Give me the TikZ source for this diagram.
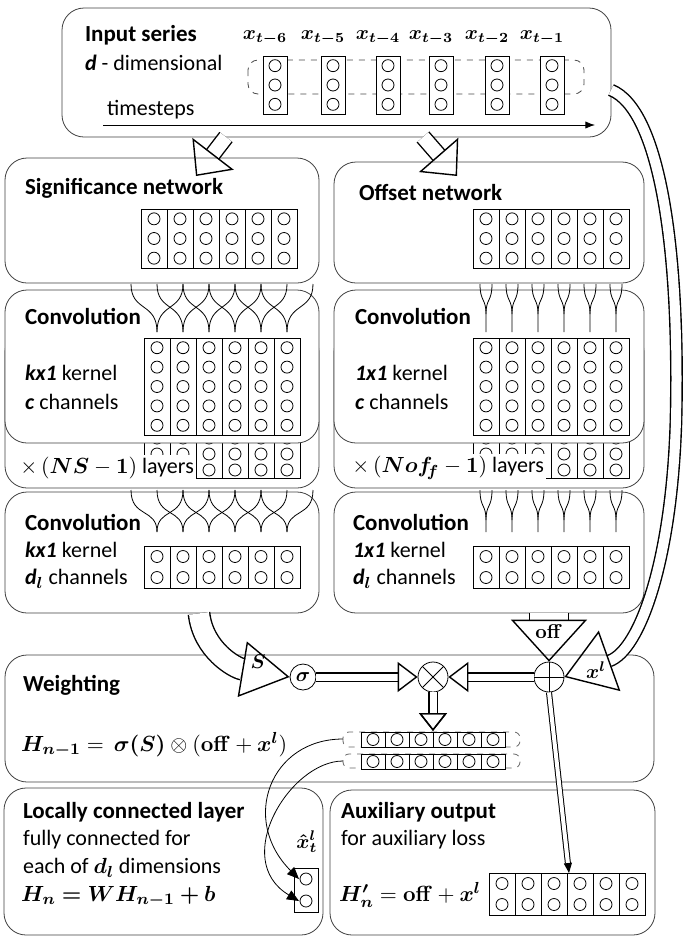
\documentclass[tikz,border=0pt]{standalone}
\usepackage{amsmath,bm}
\usepackage[no-math]{fontspec}
\setmainfont{Carlito}
\usetikzlibrary{arrows.meta,calc,fit,positioning}
\tikzset{
	panel/.style={draw=black!75, rounded corners=11pt, fill=white, inner sep=0pt},
	title/.style={anchor=west, font=\bfseries\fontsize{11.5}{13}\selectfont},
	txt/.style={anchor=west, font=\fontsize{11}{13}\selectfont},
	op/.style={circle, draw, fill=white, minimum size=13pt, inner sep=0pt},
	hollow/.style n args={3}{draw, line width=0.7pt, double=white, double distance=#1,
		-{Triangle[open, length=#2 0 0, width=#3 0 0]}},
	thin/.style={draw, line width=0.5pt, double=white, double distance=2pt, -{Triangle[length=5pt 0 0, width=4pt 0 0]}},
}
% a column of n cells: x left, y top, width, height, n
\newcommand\cellcol[5]{
	\draw[fill=white] (#1,#2) rectangle ++(#3,#4);
	\foreach \k in {1,...,#5}
	\draw ({#1+#3/2},{#2+(\k-0.5)*#4/#5}) circle[radius=3pt];
}
% six neighbouring columns
\newcommand\cellrow[5]{
	\foreach \j in {0,...,5}
	\cellcol{#1+\j*#3}{#2}{#3}{#4}{#5};
}
\begin{document}
\begin{tikzpicture}[x=0.5pt, y=-0.5pt, >=Latex]
\useasboundingbox (0,0) rectangle (689,943);

% the input
\node[panel, fit={(62,8) (611,137)}] (inp) {};
\node[title] at (78,35) {Input series};
\node[txt] at (78,63) {\textbf{\textit{d}} - dimensional};
\draw[dashed, black!70, rounded corners=5pt] (248,60) rectangle (584,94);
\foreach \c/\t [count=\i] in {275/6,333/5,388/4,441/3,497/2,552/1}{
	\cellcol{\c-12}{56}{24}{58}{3}
	\node at (\c-10,38) (x\i) {$\bm{x_{t-\t}}$};
}
\node[txt] at (100,110) {timesteps};
\coordinate (ts0) at (103,125);
\coordinate (ts1) at (595,125);
\draw[->] (ts0) -- (ts1);
\coordinate (byp) at (611,90);

% significance side
\node[panel, fit={(5,158) (319,283)}] (sig) {};
\node[title] at (18,188) {Significance network};
\cellrow{141}{209}{26}{59}{3}
\node[panel, fit={(5,330) (319,488)}] (sigrep) {};
\cellrow{144}{430}{26}{48}{3}
\node[txt, fill=white, inner sep=1pt] at (18,468) {$\times\,(\bm{NS}-\mathbf{1})$ layers};
\node[panel, fit={(5,290) (319,443)}] (sigconv) {};
\node[title] at (18,316) {Convolution};
\node[txt] at (18,373) {\textbf{\textit{kx1}} kernel};
\node[txt] at (18,402) {\textbf{\textit{c}} channels};
\cellrow{144}{338}{26}{97}{5}
\node[panel, fit={(5,492) (319,613)}] (sigout) {};
\node[title] at (18,522) {Convolution};
\node[txt] at (18,550) {\textbf{\textit{kx1}} kernel};
\node[txt] at (18,579) {\textbf{\textit{d}}$_{\bm{l}}$ channels};
\cellrow{144}{546}{26}{42}{2}

% offset side
\node[panel, fit={(334,162) (644,283)}] (off) {};
\node[title] at (352,192) {Offset network};
\cellrow{473}{209}{26}{59}{3}
\node[panel, fit={(334,330) (644,488)}] (offrep) {};
\cellrow{473}{430}{26}{48}{3}
\node[txt, fill=white, inner sep=1pt] at (350,468) {$\times\,(\bm{Nof_{\!f}}-\mathbf{1})$ layers};
\node[panel, fit={(334,290) (644,443)}] (offconv) {};
\node[title] at (348,316) {Convolution};
\node[txt] at (348,373) {\textbf{\textit{1x1}} kernel};
\node[txt] at (348,402) {\textbf{\textit{c}} channels};
\cellrow{473}{338}{26}{97}{5}
\node[panel, fit={(334,492) (644,613)}] (offout) {};
\node[title] at (346,522) {Convolution};
\node[txt] at (346,550) {\textbf{\textit{1x1}} kernel};
\node[txt] at (346,579) {\textbf{\textit{d}}$_{\bm{l}}$ channels};
\cellrow{473}{546}{26}{42}{2}

% kernels between the layers
\foreach \ya/\yb in {284/332, 490/532}{
	\foreach \c in {157,183,...,287}{
		\draw (\c-26,\ya) .. controls (\c-26,\ya+28) and (\c,\ya+18) .. (\c,\yb);
		\draw (\c+26,\ya) .. controls (\c+26,\ya+28) and (\c,\ya+18) .. (\c,\yb);
	}
	\foreach \c in {486,512,...,616}{
		\draw (\c-6,\ya) .. controls (\c-6,\ya+18) and (\c,\ya+14) .. (\c,\ya+30) -- (\c,\yb);
		\draw (\c+6,\ya) .. controls (\c+6,\ya+18) and (\c,\ya+14) .. (\c,\ya+30);
	}
}

% from input to both networks
\draw[hollow={7pt}{14pt}{26pt}] (226,137) -- (196,176);
\draw[hollow={7pt}{14pt}{26pt}] (423,137) -- (457,176);

% weighting
\node[panel, fit={(5,655) (654,782)}] (wgt) {};
\node[title] at (16,685) {Weighting};
\node[txt] at (14,745) {$\bm{H_{n-1}} =\, \bm{\sigma(S)} \otimes (\mathbf{off} + \bm{x^l})$};
\node[op] at (303,677) (sigma) {$\bm{\sigma}$};
\node[op, minimum size=15pt] at (433,677) (times) {};
\draw ($(times.center)+(-45:7.5pt)$) -- ($(times.center)+(135:7.5pt)$);
\draw ($(times.center)+(45:7.5pt)$) -- ($(times.center)+(-135:7.5pt)$);
\node[op, minimum size=15pt] at (549,677) (plus) {};
\draw (plus.north) -- (plus.south) (plus.west) -- (plus.east);
\draw[hollow={10pt}{24pt}{28pt}] (sigout.south -| 199,0) .. controls (203,650) and (235,668) .. (sigma.west);
\node at (258,662) {$\bm{S}$};
\draw[hollow={19pt}{21pt}{38pt}] (offout.south -| 549,0) -- (plus.north);
\node at (549,632) {$\mathbf{off}$};
\draw[hollow={5pt}{24pt}{32pt}] (byp) .. controls (660,110) and (680,250) .. (676,420)
	.. controls (672,560) and (640,650) .. (plus.east);
\node at (596,670) {$\bm{x^l}$};
\draw[hollow={3.5pt}{10pt}{15pt}] (sigma) -- (times);
\draw[hollow={3.5pt}{10pt}{15pt}] (plus) -- (times);
\draw[dashed, black!60, rounded corners=3pt] (343,732) rectangle (520,747);
\draw[dashed, black!60, rounded corners=3pt] (343,754) rectangle (520,768);
\coordinate (rowa) at (343,739);
\coordinate (rowb) at (343,761);
\foreach \y in {732,754}
\cellrow{361}{\y}{24}{15}{1}
\draw[hollow={3.5pt}{9pt}{14pt}] (times) -- (433,731);

% locally connected layer
\node[panel, fit={(4,788) (323,935)}] (loc) {};
\node[title] at (16,812) {Locally connected layer};
\node[txt] at (16,840) {fully connected for};
\node[txt] at (16,868) {each of $\bm{d_l}$ dimensions};
\node[txt] at (14,897) {$\bm{H_n = WH_{n-1} + b}$};
\cellcol{294}{868}{24}{44}{2}
\coordinate (outa) at (299,879);
\coordinate (outb) at (299,901);
\node[inner sep=1pt] at (307,842) {$\bm{\hat{x}^l_t}$};
\draw[-{Triangle[length=6pt,width=5pt]}] (rowa) .. controls (270,739) and (240,820) .. (outa);
\draw[-{Triangle[length=6pt,width=5pt]}] (rowb) .. controls (290,761) and (230,860) .. (outb);

% auxiliary output
\node[panel, fit={(330,790) (655,935)}] (aux) {};
\node[title] at (334,812) {Auxiliary output};
\node[txt] at (334,840) {for auxiliary loss};
\node[txt] at (332,895) {$\bm{H'_n} = \mathbf{off} + \bm{x^l}$};
\cellrow{489}{873}{26}{42}{2}
\coordinate (auxin) at (569,873);
\draw[thin] (plus.south) -- (auxin);
\end{tikzpicture}
\end{document}
